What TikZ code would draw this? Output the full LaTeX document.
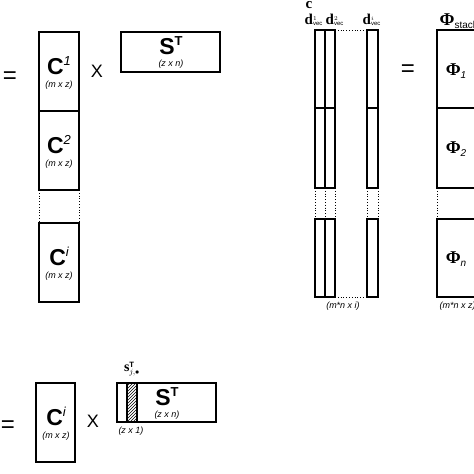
\documentclass[tikz,border=0pt]{standalone}
\usepackage{fontspec}
\setmainfont{Liberation Sans}
\newfontfamily\serifbf{Liberation Serif}
\usetikzlibrary{patterns}

% big matrix symbol with superscript
\newcommand{\matsym}[2]{{\fontsize{23}{23}\selectfont\bfseries #1}\raisebox{9pt}{\fontsize{13}{13}\selectfont #2}}
% dimensions under a symbol
\newcommand{\dims}[1]{{\fontsize{9}{9}\selectfont\itshape #1}}
% column vector label
\newcommand{\dvec}[1]{{\serifbf\bfseries\fontsize{15}{15}\selectfont d}{\fontsize{9}{9}\selectfont$^{#1}_{\mathrm{vec}}$}}
% Phi block label
\newcommand{\philab}[1]{{\serifbf\bfseries\fontsize{18}{18}\selectfont Φ}\raisebox{-3pt}{\fontsize{10}{10}\selectfont\itshape #1}}

\tikzset{
  box/.style={draw, line width=1.1pt},
  gap/.style={draw, dotted, line width=0.8pt},
  op/.style={font=\fontsize{24}{24}\selectfont},
  times/.style={font=\fontsize{18}{18}\selectfont},
  every node/.style={inner sep=0.5pt},
}

\begin{document}
\begin{tikzpicture}[x=1pt, y=-1pt]
\clip (0,0) rectangle (474,474);
\fill[white] (0,0) rectangle (474,474);

% Pilha de C (em cima, esquerda)
\node[op] (eqA) at (10,78) {=};
\draw[box] (39,32) rectangle (79,190);
\draw[box] (39,111) -- (79,111);
\draw[gap] (39,190) -- (39,223);
\draw[gap] (79,190) -- (79,223);
\draw[box] (39,223) rectangle (79,302);
\node (c1) at (59,66) {\matsym{C}{\itshape 1}};
\node (c1d) at (59,85) {\dims{(m x z)}};
\node (c2) at (59,145) {\matsym{C}{\itshape 2}};
\node (c2d) at (59,164) {\dims{(m x z)}};
\node (ci) at (59,256) {\matsym{C}{\itshape i}};
\node (cid) at (59,276) {\dims{(m x z)}};

% Produto com S^T
\node[times] (xA) at (97,71) {X};
\draw[box] (121,32) rectangle (220,72);
\node (st) at (171,46) {\matsym{S}{\bfseries T}};
\node (std) at (171,64) {\dims{(z x n)}};

% Colunas de c
\node (cvec) at (309,5) {\serifbf\bfseries\fontsize{15}{15}\selectfont c};
\node[anchor=west] (d1) at (304,20) {\dvec{1}};
\node[anchor=west] (d2) at (325,20) {\dvec{2}};
\node[anchor=west] (di) at (362,20) {\dvec{i}};
\foreach \xa/\xb in {315/325, 325/335, 367/378} {
  \draw[box] (\xa,30) rectangle (\xb,188);
  \draw[box] (\xa,108) -- (\xb,108);
  \draw[gap] (\xa,188) -- (\xa,219);
  \draw[gap] (\xb,188) -- (\xb,219);
  \draw[box] (\xa,219) rectangle (\xb,297);
}
\draw[gap] (335,30) -- (367,30);
\draw[gap] (335,297) -- (367,297);
\node (cd) at (343,306) {\dims{(m*n x i)}};

% Pilha de Phi
\node[op] (eqB) at (408,71) {=};
\draw[box] (437,30) rectangle (490,188);
\draw[box] (437,108) -- (490,108);
\draw[gap] (437,188) -- (437,219);
\draw[box] (437,219) rectangle (490,297);
\node[anchor=west] (phis) at (439,21) {{\serifbf\bfseries\fontsize{18}{18}\selectfont Φ}\raisebox{-3pt}{\fontsize{10}{10}\selectfont stack}};
\node (phi1) at (456,71) {\philab{1}};
\node (phi2) at (456,149) {\philab{2}};
\node (phin) at (456,259) {\philab{n}};
\node[anchor=west] (phid) at (439,306) {\dims{(m*n x z)}};

% Bloco de baixo: C^i x S^T
\node[op] (eqC) at (8,427) {=};
\draw[box] (36,383) rectangle (75,462);
\node (cib) at (56,416) {\matsym{C}{\itshape i}};
\node (cibd) at (56,436) {\dims{(m x z)}};
\node[times] (xB) at (93,421) {X};
\draw[pattern=north east lines] (127,383) rectangle (137,422);
\draw[box] (117,383) rectangle (216,422);
\draw[box] (127,383) -- (127,422);
\draw[box] (137,383) -- (137,422);
\node (stb) at (167,397) {\matsym{S}{\bfseries T}};
\node (stbd) at (167,415) {\dims{(z x n)}};
\node (sjd) at (131,431) {\dims{(z x 1)}};
\node (sj) at (132,369) {{\serifbf\bfseries\fontsize{14}{14}\selectfont s}{\fontsize{11}{11}\selectfont$^{\mathbf{T}}_{j,\bullet}$}};

\end{tikzpicture}
\end{document}
